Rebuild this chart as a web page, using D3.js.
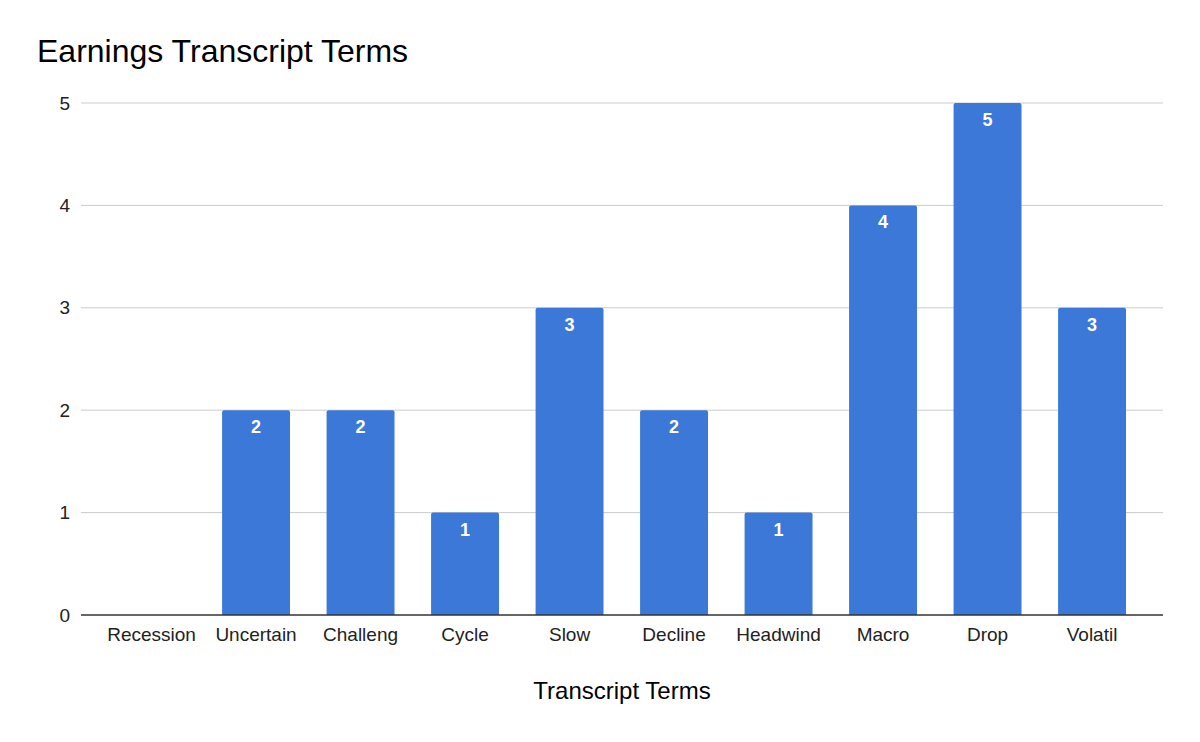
<!DOCTYPE html>
<html><head><meta charset="utf-8">
<script src="https://cdn.jsdelivr.net/npm/d3@7"></script>
<style>body{margin:0;background:#fff;}svg{display:block;font-family:"Liberation Sans",Arial,sans-serif;}</style>
</head><body>
<svg id="c" width="1200" height="742"></svg>
<script>
const categories = ["Recession","Uncertain","Challeng","Cycle","Slow","Decline","Headwind","Macro","Drop","Volatil"];
const values = [0,2,2,1,3,2,1,4,5,3];
const yTicks = [0,1,2,3,4,5];
const title = "Earnings Transcript Terms";
const xTitle = "Transcript Terms";

const svg = d3.select("#c");
const x = d3.scaleBand().domain(categories).range([99.3,1144.3]).paddingInner(0.35).paddingOuter(0.175);
const y = d3.scaleLinear().domain([0,5]).range([615,103]);

svg.append("text").attr("x",37).attr("y",62).attr("font-size",32).attr("fill","#000").text(title);

// gridlines
svg.append("g").selectAll("line").data(yTicks.filter(d=>d>0)).join("line")
  .attr("x1",81).attr("x2",1163).attr("y1",d=>y(d)).attr("y2",d=>y(d))
  .attr("stroke","#cccccc").attr("stroke-width",1);

// y tick labels
svg.append("g").selectAll("text").data(yTicks).join("text")
  .attr("x",70).attr("y",d=>y(d)).attr("dy","0.35em").attr("text-anchor","end")
  .attr("font-size",19).attr("fill","#222").text(d=>d);

// bars with rounded top corners
const r = 2;
const barData = categories.map((c,i)=>({c,v:values[i]})).filter(d=>d.v>0);
svg.append("g").selectAll("path").data(barData).join("path")
  .attr("fill","#3c78d8")
  .attr("d",d=>{
    const x0=x(d.c), w=x.bandwidth(), y0=y(d.v), y1=y(0);
    return `M${x0},${y1}V${y0+r}Q${x0},${y0} ${x0+r},${y0}H${x0+w-r}Q${x0+w},${y0} ${x0+w},${y0+r}V${y1}Z`;
  });

// value labels
svg.append("g").selectAll("text").data(barData).join("text")
  .attr("x",d=>x(d.c)+x.bandwidth()/2).attr("y",d=>y(d.v)+23)
  .attr("text-anchor","middle").attr("font-size",18).attr("font-weight","bold").attr("fill","#fff").text(d=>d.v);

// baseline
svg.append("line").attr("x1",81).attr("x2",1163).attr("y1",y(0)).attr("y2",y(0)).attr("stroke","#333").attr("stroke-width",1.5);

// x labels
svg.append("g").selectAll("text").data(categories).join("text")
  .attr("x",d=>x(d)+x.bandwidth()/2).attr("y",641).attr("text-anchor","middle")
  .attr("font-size",19).attr("fill","#222").text(d=>d);

svg.append("text").attr("x",622).attr("y",699).attr("text-anchor","middle").attr("font-size",24).attr("fill","#000").text(xTitle);
</script>
</body></html>
